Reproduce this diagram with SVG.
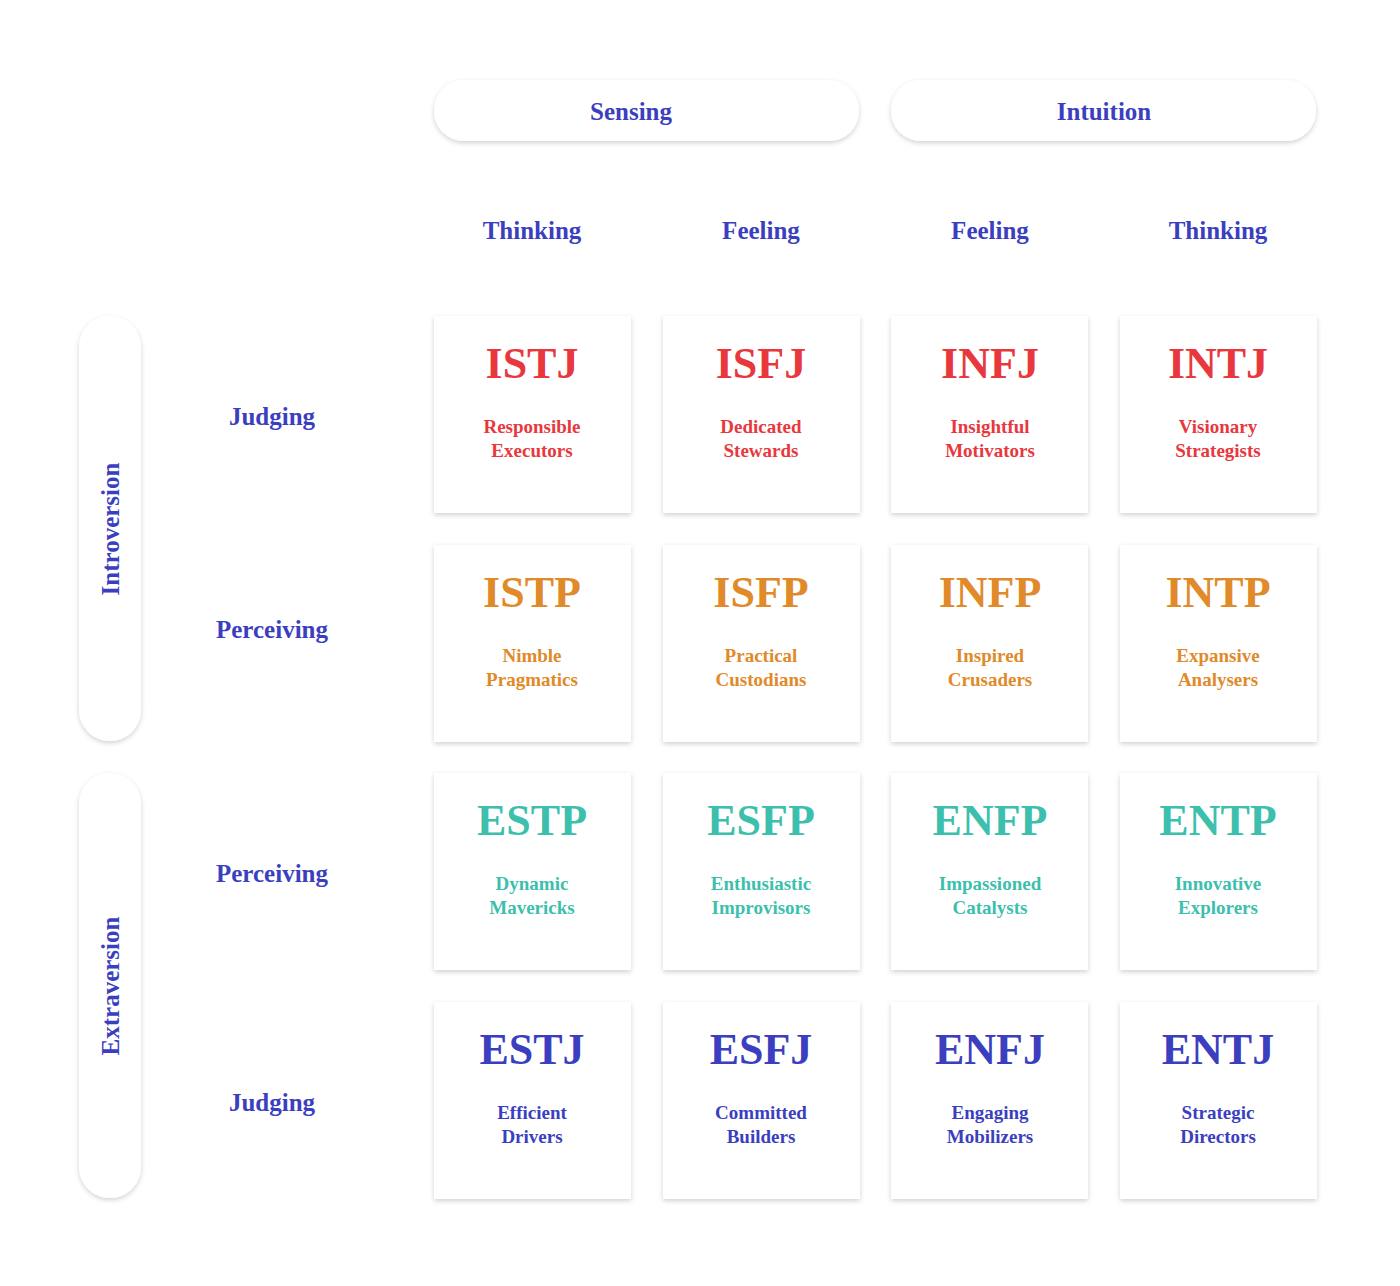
<svg xmlns="http://www.w3.org/2000/svg" width="1400" height="1286" viewBox="0 0 1400 1286">
<defs>
<filter id="sh" x="-20%" y="-20%" width="140%" height="140%"><feDropShadow dx="0" dy="2" stdDeviation="2.5" flood-color="#000" flood-opacity="0.18"/></filter>
<style>
text{font-family:"Liberation Serif","DejaVu Serif",serif;font-weight:bold;text-anchor:middle}
.card{fill:#fff;filter:url(#sh)}
.pill{fill:#fff;filter:url(#sh)}
.h{fill:#3b3fbf;font-size:25px}
.t{font-size:44px}
.s{font-size:19px}
.r{fill:#e8383d}.o{fill:#e08a2a}.g{fill:#3dbfad}.b{fill:#3b3fbf}
</style>
</defs>
<rect width="1400" height="1286" fill="#fff"/>
<g id="headers">
<rect class="pill" x="434" y="80" width="425" height="61" rx="30"/>
<text class="h" x="631" y="120">Sensing</text>
<rect class="pill" x="891" y="80" width="425" height="61" rx="30"/>
<text class="h" x="1104" y="120">Intuition</text>
<text class="h" x="532" y="239">Thinking</text>
<text class="h" x="761" y="239">Feeling</text>
<text class="h" x="990" y="239">Feeling</text>
<text class="h" x="1218" y="239">Thinking</text>
<rect class="pill" x="79" y="316" width="62" height="425" rx="31"/>
<text class="h" transform="translate(119,529) rotate(-90)">Introversion</text>
<rect class="pill" x="79" y="773" width="62" height="425" rx="31"/>
<text class="h" transform="translate(119,986) rotate(-90)">Extraversion</text>
<text class="h" x="272" y="425">Judging</text>
<text class="h" x="272" y="638">Perceiving</text>
<text class="h" x="272" y="882">Perceiving</text>
<text class="h" x="272" y="1111">Judging</text>
</g>
<g id="ISTJ"><rect class="card" x="434" y="316" width="197" height="197"/><text class="t r" x="532" y="378">ISTJ</text><text class="s r" x="532" y="433">Responsible</text><text class="s r" x="532" y="457">Executors</text></g>
<g id="ISFJ"><rect class="card" x="663" y="316" width="197" height="197"/><text class="t r" x="761" y="378">ISFJ</text><text class="s r" x="761" y="433">Dedicated</text><text class="s r" x="761" y="457">Stewards</text></g>
<g id="INFJ"><rect class="card" x="891" y="316" width="197" height="197"/><text class="t r" x="990" y="378">INFJ</text><text class="s r" x="990" y="433">Insightful</text><text class="s r" x="990" y="457">Motivators</text></g>
<g id="INTJ"><rect class="card" x="1120" y="316" width="197" height="197"/><text class="t r" x="1218" y="378">INTJ</text><text class="s r" x="1218" y="433">Visionary</text><text class="s r" x="1218" y="457">Strategists</text></g>
<g id="ISTP"><rect class="card" x="434" y="545" width="197" height="197"/><text class="t o" x="532" y="607">ISTP</text><text class="s o" x="532" y="662">Nimble</text><text class="s o" x="532" y="686">Pragmatics</text></g>
<g id="ISFP"><rect class="card" x="663" y="545" width="197" height="197"/><text class="t o" x="761" y="607">ISFP</text><text class="s o" x="761" y="662">Practical</text><text class="s o" x="761" y="686">Custodians</text></g>
<g id="INFP"><rect class="card" x="891" y="545" width="197" height="197"/><text class="t o" x="990" y="607">INFP</text><text class="s o" x="990" y="662">Inspired</text><text class="s o" x="990" y="686">Crusaders</text></g>
<g id="INTP"><rect class="card" x="1120" y="545" width="197" height="197"/><text class="t o" x="1218" y="607">INTP</text><text class="s o" x="1218" y="662">Expansive</text><text class="s o" x="1218" y="686">Analysers</text></g>
<g id="ESTP"><rect class="card" x="434" y="773" width="197" height="197"/><text class="t g" x="532" y="835">ESTP</text><text class="s g" x="532" y="890">Dynamic</text><text class="s g" x="532" y="914">Mavericks</text></g>
<g id="ESFP"><rect class="card" x="663" y="773" width="197" height="197"/><text class="t g" x="761" y="835">ESFP</text><text class="s g" x="761" y="890">Enthusiastic</text><text class="s g" x="761" y="914">Improvisors</text></g>
<g id="ENFP"><rect class="card" x="891" y="773" width="197" height="197"/><text class="t g" x="990" y="835">ENFP</text><text class="s g" x="990" y="890">Impassioned</text><text class="s g" x="990" y="914">Catalysts</text></g>
<g id="ENTP"><rect class="card" x="1120" y="773" width="197" height="197"/><text class="t g" x="1218" y="835">ENTP</text><text class="s g" x="1218" y="890">Innovative</text><text class="s g" x="1218" y="914">Explorers</text></g>
<g id="ESTJ"><rect class="card" x="434" y="1002" width="197" height="197"/><text class="t b" x="532" y="1064">ESTJ</text><text class="s b" x="532" y="1119">Efficient</text><text class="s b" x="532" y="1143">Drivers</text></g>
<g id="ESFJ"><rect class="card" x="663" y="1002" width="197" height="197"/><text class="t b" x="761" y="1064">ESFJ</text><text class="s b" x="761" y="1119">Committed</text><text class="s b" x="761" y="1143">Builders</text></g>
<g id="ENFJ"><rect class="card" x="891" y="1002" width="197" height="197"/><text class="t b" x="990" y="1064">ENFJ</text><text class="s b" x="990" y="1119">Engaging</text><text class="s b" x="990" y="1143">Mobilizers</text></g>
<g id="ENTJ"><rect class="card" x="1120" y="1002" width="197" height="197"/><text class="t b" x="1218" y="1064">ENTJ</text><text class="s b" x="1218" y="1143">Directors</text><text class="s b" x="1218" y="1119">Strategic</text></g>
<g id="connectors"/>
</svg>
